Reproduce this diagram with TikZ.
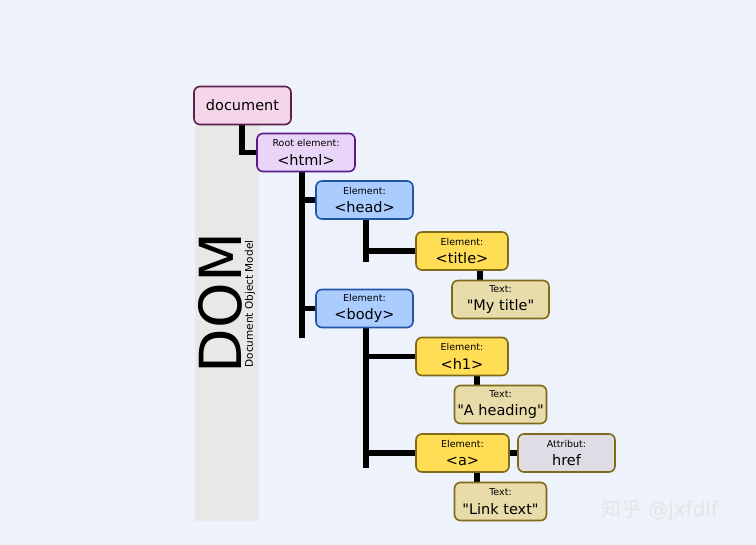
\documentclass[tikz,border=0pt]{standalone}
\usepackage{fontspec}
\setmainfont{DejaVu Sans}[Ligatures=TeXOff]
\newfontfamily\cjk{Noto Sans CJK SC}
\begin{document}
\begin{tikzpicture}[x=1pt,y=-1pt,
  box/.style={draw,line width=1.6pt,rounded corners=6pt,minimum height=38pt,align=center,inner sep=0pt},
  conn/.style={line width=5.5pt,black}]
\fill[fill={rgb,255:red,238;green,242;blue,250}] (0,0) rectangle (756,545);
\useasboundingbox (0,0) rectangle (756,545);
\fill[gray!18] (195,125) rectangle (259,521);
\node[rotate=90,font=\fontsize{58}{58}\selectfont] (dom) at (220,303) {DOM};
\node[rotate=90,font=\fontsize{10.5}{11}\selectfont] (dommodel) at (250,304) {Document Object Model};
\definecolor{docf}{RGB}{245,213,234}\definecolor{docd}{RGB}{90,31,74}
\definecolor{htf}{RGB}{232,213,248}\definecolor{htd}{RGB}{90,26,138}
\definecolor{blf}{RGB}{170,204,255}\definecolor{bld}{RGB}{34,85,170}
\definecolor{yef}{RGB}{255,221,85}\definecolor{yed}{RGB}{128,106,26}
\definecolor{txf}{RGB}{232,220,170}
\definecolor{atf}{RGB}{224,220,230}
\tikzset{
 docb/.style={box,fill=docf,draw=docd,minimum width=97pt},
 htb/.style={box,fill=htf,draw=htd,minimum width=98pt},
 blb/.style={box,fill=blf,draw=bld,minimum width=97pt},
 yeb/.style={box,fill=yef,draw=yed,minimum width=92pt},
 txb/.style={box,fill=txf,draw=yed,minimum width=92pt},
 atb/.style={box,fill=atf,draw=yed,minimum width=97pt}}
\newcommand{\two}[2]{{\fontsize{9.5}{10}\selectfont #1}\\[6.5pt]{\fontsize{14.5}{15}\selectfont #2}}
\coordinate (k1) at (242,152.5);
\coordinate (hb) at (302,338);
\coordinate (he) at (366,262);
\coordinate (be) at (366,468);
\draw[conn] (242,125) -- (k1) -- (257,152.5);
\draw[conn] (302,172) -- (hb);
\draw[conn] (302,200) -- (316,200);
\draw[conn] (302,308.5) -- (316,308.5);
\draw[conn] (366,219) -- (he);
\draw[conn] (366,251) -- (416,251);
\draw[conn] (366,328) -- (be);
\draw[conn] (366,356.5) -- (416,356.5);
\draw[conn] (366,453) -- (416,453);
\draw[conn] (480,270) -- (480,280);
\draw[conn] (477,376) -- (477,385);
\draw[conn] (477,472) -- (477,482);
\draw[conn] (509,453) -- (518,453);
\node[docb,font=\fontsize{14.5}{15}\selectfont] (doc) at (242.5,105.5) {document};
\node[htb] (html) at (306,152.5) {\two{Root element:}{<html>}};
\node[blb] (head) at (364.5,200) {\two{Element:}{<head>}};
\node[blb] (body) at (364.5,308.5) {\two{Element:}{<body>}};
\node[yeb] (title) at (462,251) {\two{Element:}{<title>}};
\node[txb,minimum width=97pt] (mytitle) at (500.5,299.5) {\two{Text:}{"My title"}};
\node[yeb] (h1) at (462,356.5) {\two{Element:}{<h1>}};
\node[txb] (heading) at (500.5,404.5) {\two{Text:}{"A heading"}};
\node[yeb,minimum width=93pt] (a) at (462.5,453) {\two{Element:}{<a>}};
\node[atb] (attr) at (566.5,453) {\two{Attribut:}{href}};
\node[txb] (link) at (500.5,501.5) {\two{Text:}{"Link text"}};
\node[text=white!80!gray,font=\fontsize{20}{20}\selectfont] (wm) at (660,510) {{\cjk 知乎} @jxfdlf};
\end{tikzpicture}
\end{document}
